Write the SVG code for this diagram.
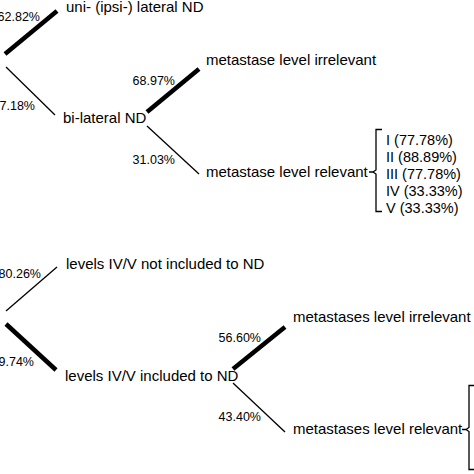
<svg xmlns="http://www.w3.org/2000/svg" width="474" height="474" viewBox="0 0 474 474">
<style>
.lbl{font-family:"Liberation Sans",Arial,sans-serif;font-size:15px;fill:#000}
.pct{font-family:"Liberation Sans",Arial,sans-serif;font-size:12.5px;fill:#000}
.lst{font-family:"Liberation Sans",Arial,sans-serif;font-size:14.5px;fill:#000}
.thick{stroke:#000;stroke-width:4.5;fill:none}
.thin{stroke:#000;stroke-width:1.3;fill:none}
.brace{stroke:#000;stroke-width:1.3;fill:none}
</style>
<rect width="474" height="474" fill="#fff"/>
<g id="connectors">
<line class="thick" x1="5" y1="54" x2="57" y2="11"/>
<line class="thin" x1="6" y1="67" x2="55" y2="115"/>
<line class="thick" x1="147" y1="112" x2="199" y2="69"/>
<line class="thin" x1="147" y1="126" x2="199" y2="174"/>
<line class="thin" x1="6" y1="311" x2="57" y2="267"/>
<line class="thick" x1="6" y1="324" x2="56" y2="370"/>
<line class="thick" x1="233" y1="369" x2="285" y2="327"/>
<line class="thin" x1="233" y1="383" x2="285" y2="432"/>
<text class="pct" x="40" y="21" text-anchor="end">62.82%</text>
<text class="pct" x="35" y="110" text-anchor="end">37.18%</text>
<text class="pct" x="175" y="85" text-anchor="end">68.97%</text>
<text class="pct" x="175" y="164" text-anchor="end">31.03%</text>
<text class="pct" x="41" y="278" text-anchor="end">80.26%</text>
<text class="pct" x="34" y="366" text-anchor="end">19.74%</text>
<text class="pct" x="261" y="342" text-anchor="end">56.60%</text>
<text class="pct" x="261" y="421" text-anchor="end">43.40%</text>
</g>
<g id="uni">
<text class="lbl" x="66" y="12">uni- (ipsi-) lateral ND</text>
</g>
<g id="bilateral">
<text class="lbl" x="63" y="123">bi-lateral ND</text>
</g>
<g id="irrelevant1">
<text class="lbl" x="206" y="65">metastase level irrelevant</text>
</g>
<g id="relevant1">
<text class="lbl" x="206" y="177">metastase level relevant</text>
<path class="brace" d="M369,172 H373 M382,129.5 H376 V170 L373,172 L376,174 V211.5 H382"/>
<text class="lst" x="386" y="145">I (77.78%)</text>
<text class="lst" x="386" y="162">II (88.89%)</text>
<text class="lst" x="386" y="179">III (77.78%)</text>
<text class="lst" x="386" y="196">IV (33.33%)</text>
<text class="lst" x="386" y="213">V (33.33%)</text>
</g>
<g id="notincluded">
<text class="lbl" x="66" y="269">levels IV/V not included to ND</text>
</g>
<g id="included">
<text class="lbl" x="65" y="381">levels IV/V included to ND</text>
</g>
<g id="irrelevant2">
<text class="lbl" x="293" y="322">metastases level irrelevant</text>
</g>
<g id="relevant2">
<text class="lbl" x="293" y="434">metastases level relevant</text>
<path class="brace" d="M462,429.5 H466 M475,385.5 H469 V427.5 L466,429.5 L469,431.5 V469.5 H475"/>
</g>
</svg>
